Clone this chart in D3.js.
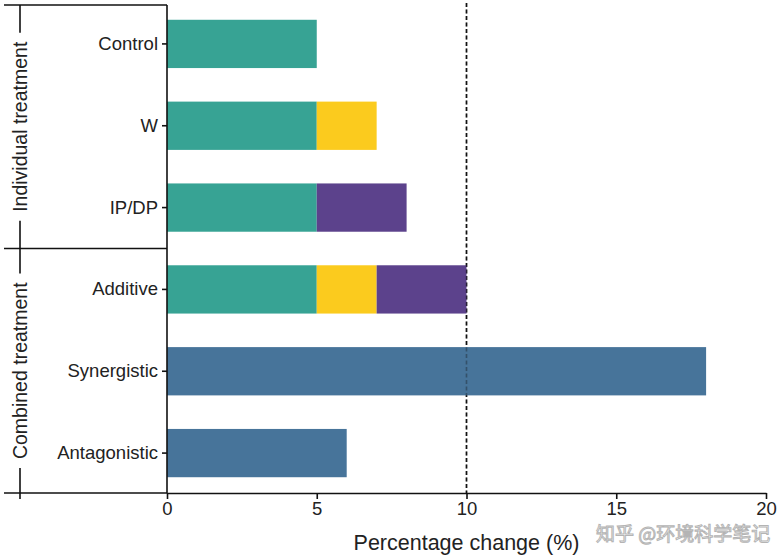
<!DOCTYPE html>
<meta charset="utf-8">
<script src="https://d3js.org/d3.v7.min.js"></script>
<style>
  body { margin: 0; background: #fff; }
  text { font-family: "Liberation Sans", Arial, sans-serif; fill: #222; }
</style>
<div id="chart"></div>
<script>
  // categories, top to bottom
  const categories = ["Control", "W", "IP/DP", "Additive", "Synergistic", "Antagonistic"];
  // series values (percentage change)
  const baseline   = [5, 5, 5, 5, 0, 0];
  const wEffect    = [0, 2, 0, 2, 0, 0];
  const ipdpEffect = [0, 0, 3, 3, 0, 0];
  const combined   = [0, 0, 0, 0, 18, 6];
  const xTicks = [0, 5, 10, 15, 20];
  const groups = [
    {label: "Individual treatment", first: "Control", last: "IP/DP"},
    {label: "Combined treatment", first: "Additive", last: "Antagonistic"}
  ];

  const seriesKeys = ["baseline", "w", "ipdp", "combined"];
  const colors = {baseline: "#37a394", w: "#fbcb1e", ipdp: "#5c428c", combined: "#47749a"};

  const rows = categories.map((c, i) => ({
    cat: c, baseline: baseline[i], w: wEffect[i], ipdp: ipdpEffect[i], combined: combined[i]
  }));

  const W = 781, H = 558;
  const mLeft = 167, mRight = 766, mTop = 3, mBottom = 493;

  const svg = d3.select("#chart").append("svg")
    .attr("width", W).attr("height", H);

  const x = d3.scaleLinear().domain([0, 20]).range([mLeft, mRight]);
  const y = d3.scaleBand().domain(categories).range([mTop, mBottom + 1])
    .paddingInner(0.41).paddingOuter(0.205);

  // dashed reference line at 10% (behind the bars)
  const refLine = () => svg.append("line")
    .attr("x1", x(10)).attr("x2", x(10))
    .attr("y1", 3).attr("y2", mBottom)
    .attr("stroke", "#111").attr("stroke-width", 1.6)
    .attr("stroke-dasharray", "4,2.5");
  refLine();

  // stacked bars
  const stacked = d3.stack().keys(seriesKeys)(rows);
  svg.append("g").selectAll("g")
    .data(stacked)
    .join("g")
      .attr("fill", d => colors[d.key])
    .selectAll("rect")
    .data(d => d.filter(p => p[1] - p[0] > 0))
    .join("rect")
      .attr("x", d => x(d[0]))
      .attr("y", d => y(d.data.cat))
      .attr("width", d => x(d[1]) - x(d[0]))
      .attr("height", y.bandwidth());

  // faint copy shows through the bars
  refLine().attr("stroke-opacity", 0.35);

  // x axis
  const xAxis = svg.append("g")
    .attr("transform", `translate(0,${mBottom})`)
    .call(d3.axisBottom(x).tickValues(xTicks).tickSize(6).tickSizeOuter(0).tickPadding(3));
  xAxis.select(".domain").attr("stroke", "#111").attr("stroke-width", 1.6);
  xAxis.selectAll(".tick line").attr("stroke", "#111").attr("stroke-width", 1.6);
  xAxis.selectAll("text").style("font-size", "18.5px").attr("fill", "#222");

  // y axis
  const yAxis = svg.append("g")
    .attr("transform", `translate(${mLeft},0)`)
    .call(d3.axisLeft(y).tickSize(5).tickSizeOuter(0).tickPadding(4));
  yAxis.select(".domain").remove();
  yAxis.selectAll(".tick line").attr("stroke", "#111").attr("stroke-width", 1.6);
  yAxis.selectAll("text").style("font-size", "18.5px").attr("fill", "#222");
  svg.append("line")
    .attr("x1", mLeft).attr("x2", mLeft).attr("y1", 5).attr("y2", mBottom)
    .attr("stroke", "#111").attr("stroke-width", 1.6);

  // group brackets on the left
  const bx = 20;
  const split = (y(groups[0].last) + y.bandwidth() + y(groups[1].first)) / 2;
  const edges = [5, split, mBottom];
  edges.forEach(e => {
    svg.append("line")
      .attr("x1", 4).attr("x2", mLeft).attr("y1", e).attr("y2", e)
      .attr("stroke", "#111").attr("stroke-width", 1.6);
  });
  groups.forEach((g, i) => {
    const y0 = edges[i], y1 = edges[i + 1], cy = (y0 + y1) / 2;
    const t = svg.append("text")
      .attr("transform", `translate(${bx + 7},${cy}) rotate(-90)`)
      .attr("text-anchor", "middle")
      .style("font-size", "19.5px")
      .text(g.label);
    const half = t.node().getComputedTextLength() / 2 + 9;
    svg.append("line")
      .attr("x1", bx).attr("x2", bx).attr("y1", y0).attr("y2", cy - half)
      .attr("stroke", "#111").attr("stroke-width", 1.6);
    svg.append("line")
      .attr("x1", bx).attr("x2", bx).attr("y1", cy + half).attr("y2", y1 + (i === groups.length - 1 ? 6 : 0))
      .attr("stroke", "#111").attr("stroke-width", 1.6);
  });

  // x axis title
  svg.append("text")
    .attr("x", (x(0) + x(20)) / 2)
    .attr("y", 550)
    .attr("text-anchor", "middle")
    .style("font-size", "21.5px")
    .text("Percentage change (%)");

  // watermark
  svg.append("text")
    .attr("x", 596).attr("y", 541)
    .style("font-family", "'Noto Sans CJK SC', sans-serif")
    .style("font-size", "19px")
    .style("fill", "#ffffff")
    .attr("stroke", "#b4b4b4")
    .attr("stroke-width", 1)
    .text("知乎 @环境科学笔记");
</script>
